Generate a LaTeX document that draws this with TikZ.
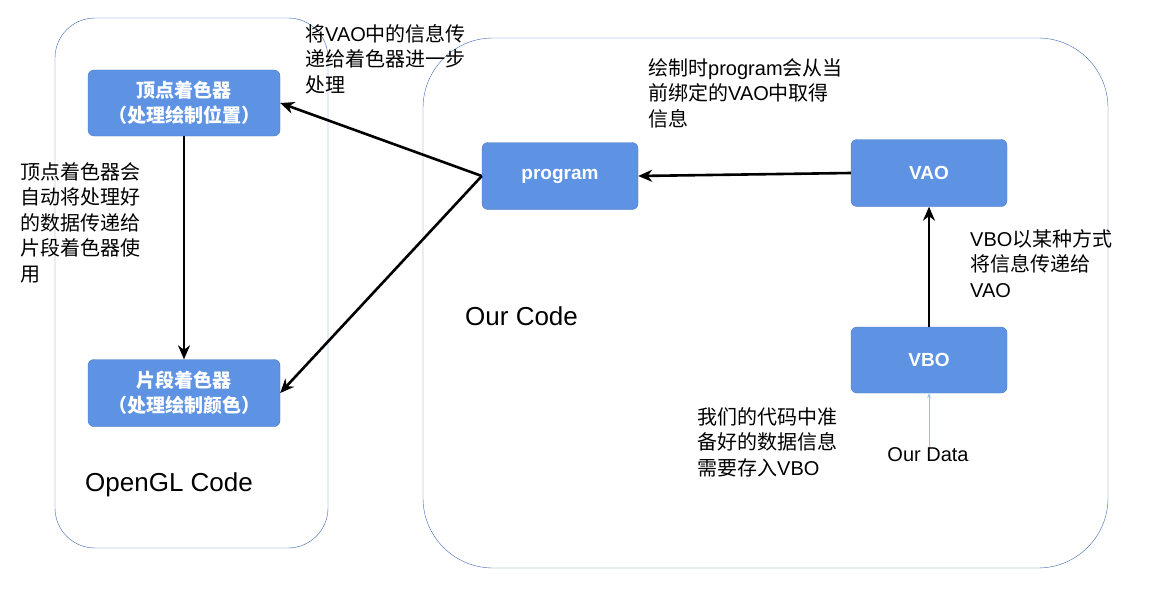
\documentclass[tikz,border=0pt]{standalone}
\usepackage{fontspec}
\setmainfont{Liberation Sans}
\newfontfamily\cjk{Noto Sans CJK SC}
\newcommand{\C}[1]{{\cjk #1}}
\usetikzlibrary{arrows.meta}
\definecolor{bx}{HTML}{5E93E4}
\definecolor{bd}{HTML}{4A76BE}
\definecolor{fr}{HTML}{3F68B0}
\begin{document}
\begin{tikzpicture}[x=1pt,y=-1pt,
  box/.style={draw=bd,fill=bx,rounded corners=6pt,text=white,font=\bfseries\fontsize{19}{25}\selectfont,align=center,inner sep=0pt},
  lbl/.style={anchor=north west,align=left,inner sep=0pt,font=\fontsize{20}{25.5}\selectfont},
  arr/.style={line width=2.6pt,-{Stealth[length=14pt,width=12pt]}}]
\useasboundingbox (0,0) rectangle (1153,615);
\draw[fr,rounded corners=70pt] (423,38) rectangle (1108,568);
\draw[fr,rounded corners=40pt] (55,18) rectangle (328,548);
\node[box,minimum width=192pt,minimum height=66pt] (vs) at (184,103) {\C{顶点着色器}\\\C{（处理绘制位置）}};
\node[box,minimum width=192pt,minimum height=67pt] (fs) at (184,393) {\C{片段着色器}\\\C{（处理绘制颜色）}};
\node[box,minimum width=156pt,minimum height=67pt] (pg) at (560,176) {program};
\node[box,minimum width=156pt,minimum height=67pt] (vao) at (929,173) {VAO};
\node[box,minimum width=156pt,minimum height=66pt] (vbo) at (929,360) {VBO};
\node[inner sep=1pt,font=\fontsize{20}{24}\selectfont] (od) at (928,455) {Our Data};
\draw[arr] (pg.west) -- (vs.east);
\draw[arr] (pg.west) -- (fs.east);
\draw[arr] (vao.west) -- (pg.east);
\draw[arr] (vbo.north) -- (vao.south);
\draw[arr] (vs.south) -- (fs.north);
\draw[color=bx!60,line width=0.6pt,-{Stealth[length=5pt]}] (vbo.south |- od.north) -- (vbo.south);
\node[lbl] (t1) at (305,24) {\C{将}VAO\C{中的信息传}\\\C{递给着色器进一步}\\\C{处理}};
\node[lbl] (t2) at (648,58) {\C{绘制时}program\C{会从当}\\\C{前绑定的}VAO\C{中取得}\\\C{信息}};
\node[lbl] (t3) at (20,162) {\C{顶点着色器会}\\\C{自动将处理好}\\\C{的数据传递给}\\\C{片段着色器使}\\\C{用}};
\node[lbl] (t4) at (970,229) {VBO\C{以某种方式}\\\C{将信息传递给}\\VAO};
\node[lbl] (t5) at (697,407) {\C{我们的代码中准}\\\C{备好的数据信息}\\\C{需要存入}VBO};
\node[anchor=west,inner sep=0pt,font=\fontsize{26}{30}\selectfont] (oc) at (465,316) {Our Code};
\node[anchor=west,inner sep=0pt,font=\fontsize{26}{30}\selectfont] (gl) at (85,485) {OpenGL Code};
\end{tikzpicture}
\end{document}
